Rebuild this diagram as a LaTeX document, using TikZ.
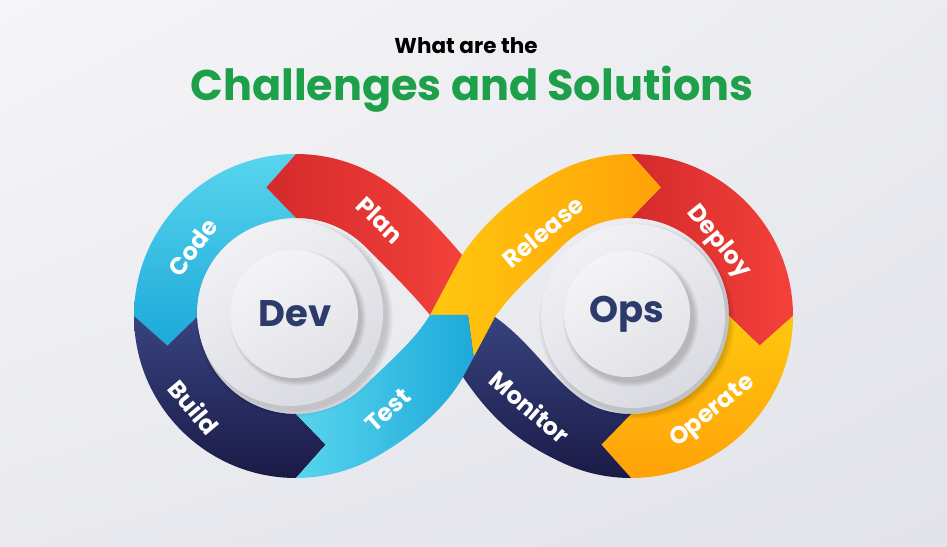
\documentclass[tikz,border=0pt]{standalone}
\usepackage{fontspec}
\setmainfont{Poppins}
\usetikzlibrary{calc,shadings}
\definecolor{bgA}{HTML}{F6F6F8}
\definecolor{bgB}{HTML}{E3E4EA}
\definecolor{redA}{HTML}{D42A2C}
\definecolor{redB}{HTML}{F4413A}
\definecolor{cyA}{HTML}{58D5ED}
\definecolor{cyB}{HTML}{1DA9DA}
\definecolor{nvA}{HTML}{38437F}
\definecolor{nvB}{HTML}{1A1A46}
\definecolor{ylA}{HTML}{FFC70F}
\definecolor{ylB}{HTML}{FFA208}
\definecolor{ttlgreen}{HTML}{1E9F4A}
\definecolor{devtxt}{HTML}{2D3A6C}
\definecolor{diskA}{HTML}{F1F1F4}
\definecolor{diskB}{HTML}{DADBE2}
\definecolor{diskC}{HTML}{F4F4F6}
\definecolor{diskD}{HTML}{E2E3E8}
\newcommand\lblfont{\fontsize{24}{27}\selectfont\bfseries}
\newcommand\hubfont{\fontsize{37}{42}\selectfont\bfseries}
\tikzset{
  lbl/.style={text=white, font=\lblfont, inner sep=0pt},
  hub/.style={text=devtxt, font=\hubfont, inner sep=0pt},
}
\begin{document}
\begin{tikzpicture}[x=1pt,y=1pt]
\useasboundingbox (0,0) rectangle (947,546);
\shade[upper left=bgA, upper right=bgB!60!bgA, lower left=bgB!70!bgA, lower right=bgB] (0,0) rectangle (947,546);

\coordinate (L) at (296,230);
\coordinate (R) at (631,230);
\coordinate (Lv) at (430,231);
\coordinate (Tv) at (462,291);
\coordinate (Rv) at (495,229);
\coordinate (Bv) at (463,169);
\coordinate (C) at (463,230);
\coordinate (J1) at (468,231);
\coordinate (J2) at (473.7,189);

% Code
\shade[top color=cyA, bottom color=cyB]
  ($(L)+(90:162)$) arc[start angle=90,end angle=180,radius=162]
  -- ($(L)+(193:132)$) -- ($(L)+(180:98)$)
  arc[start angle=180,end angle=90,radius=98]
  -- ($(L)+(103:132)$) -- cycle;
% Build
\shade[top color=nvA, bottom color=nvB]
  ($(L)+(180:162)$) arc[start angle=180,end angle=270,radius=162]
  -- ($(L)+(283:132)$) -- ($(L)+(270:98)$)
  arc[start angle=270,end angle=180,radius=98]
  -- ($(L)+(193:132)$) -- cycle;
% Deploy
\shade[left color=redA, right color=redB]
  ($(R)+(90:162)$) arc[start angle=90,end angle=0,radius=162]
  -- ($(R)+(-13:132)$) -- ($(R)+(0:98)$)
  arc[start angle=0,end angle=90,radius=98]
  -- ($(R)+(77:132)$) -- cycle;
% Operate
\shade[top color=ylA, bottom color=ylB]
  ($(R)+(0:162)$) arc[start angle=0,end angle=-90,radius=162]
  -- ($(R)+(-103:132)$) -- ($(R)+(-90:98)$)
  arc[start angle=-90,end angle=0,radius=98]
  -- ($(R)+(-13:132)$) -- cycle;
% Plan
\shade[left color=redA, right color=redB]
  ($(L)+(90:162)$) -- ($(L)+(103:132)$) -- ($(L)+(90:98)$)
  arc[start angle=90,end angle=45,radius=98]
  .. controls (387.2,277.4) and (409.3,256.0) .. (Lv)
  -- (C) -- (Tv)
  .. controls (443.4,313.2) and (422.3,335.5) .. ($(L)+(50:162)$)
  arc[start angle=50,end angle=90,radius=162] -- cycle;
% Monitor
\shade[top color=nvA, bottom color=nvB]
  ($(R)+(270:162)$) -- ($(R)+(257:132)$) -- ($(R)+(270:98)$)
  arc[start angle=270,end angle=255,radius=98]
  .. controls (562.1,147) and (540,197.4) .. (Rv)
  -- (C) -- (Bv)
  .. controls (493.7,123.4) and (522.6,101.8) .. ($(R)+(245:162)$)
  arc[start angle=245,end angle=270,radius=162] -- cycle;
% Release
\shade[left color=ylA, right color=ylB]
  (Lv) -- (J1) -- (J2) -- (Rv)
  .. controls (512.9,255.5) and (539.1,276.7) .. ($(R)+(135:98)$)
  arc[start angle=135,end angle=90,radius=98]
  -- ($(R)+(77:132)$) -- ($(R)+(90:162)$)
  arc[start angle=90,end angle=120,radius=162]
  .. controls (519.7,352.8) and (487.2,328.3) .. (Tv) -- cycle;
% Test
\shade[left color=cyA, right color=cyB]
  ($(L)+(270:162)$) arc[start angle=270,end angle=300,radius=162]
  .. controls (410.8,109.2) and (443.5,135.2) .. (Bv)
  -- (J2) -- (J1) -- (Lv)
  .. controls (414.5,205) and (387.9,183.3) .. ($(L)+(315:98)$)
  arc[start angle=315,end angle=270,radius=98]
  -- ($(L)+(283:132)$) -- cycle;

% hubs
\foreach \k in {1,...,7} {
  \fill[black, opacity=0.025] (294,228) circle ({92+\k});
  \fill[black, opacity=0.025] (637,225) circle ({91+\k});
}
\shade[top color=diskA, bottom color=diskB, shading angle=30] (290,233) circle (93);
\shade[top color=diskA, bottom color=diskB, shading angle=30] (633,230) circle (92);
\foreach \k in {1,...,6} {
  \fill[black, opacity=0.03] (298,228) circle ({62+\k});
  \fill[black, opacity=0.03] (631,227) circle ({62+\k});
}
\shade[top color=diskC, bottom color=diskD, shading angle=30] (294,232) circle (64);
\shade[top color=diskC, bottom color=diskD, shading angle=30] (627,232) circle (63);

\node[hub] (dev) at (295,232) {Dev};
\node[hub] (ops) at (627,232) {Ops};

% labels
\node[lbl, rotate=-44] (plan) at (380,326) {Plan};
\node[lbl, rotate=53] (code) at (193,299) {Code};
\node[lbl, rotate=-50] (build) at (194,139) {Build};
\node[lbl, rotate=42] (test) at (388,136) {Test};
\node[lbl, rotate=40] (release) at (543,314) {Release};
\node[lbl, rotate=-51] (deploy) at (718,304) {Deploy};
\node[lbl, rotate=39] (operate) at (713,134) {Operate};
\node[lbl, rotate=-41] (monitor) at (530,139) {Monitor};

% title
\node[font=\fontsize{21.5}{24}\selectfont\bfseries, text=black] (t1) at (466,500) {What are the};
\node[font=\fontsize{43}{48}\selectfont\bfseries, text=ttlgreen] (t2) at (472,457) {Challenges and Solutions};
\end{tikzpicture}
\end{document}
